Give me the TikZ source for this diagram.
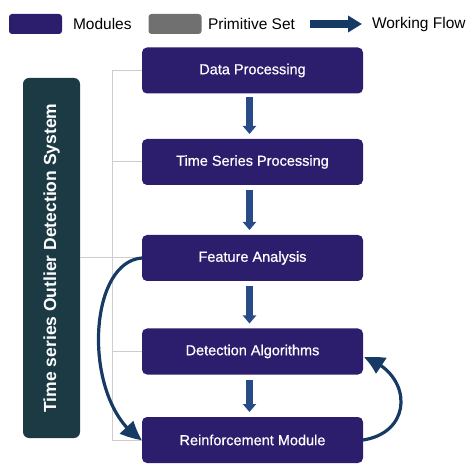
\documentclass[tikz,border=0pt]{standalone}
\usepackage{fontspec}
\setmainfont{Liberation Sans}
\newfontfamily\medfont[FakeBold=0.6]{Liberation Sans}
\usetikzlibrary{arrows.meta,bending}
\begin{document}
\begin{tikzpicture}[x=1pt, y=-1pt, inner sep=0pt, outer sep=0pt,
  module/.style={fill=M, rounded corners=5pt, minimum width=221pt, minimum height=46pt, text=white, font=\medfont\fontsize{14.5}{17}\selectfont},
  keybox/.style={rounded corners=3pt, minimum width=53pt, minimum height=20pt},
  keytext/.style={anchor=west, font=\fontsize{15.5}{18}\selectfont},
  link/.style={line width=1pt, draw=G},
  flow/.style={line width=6.5pt, draw=A, -{Triangle[width=13pt,length=8pt]}},
  loopback/.style={line width=3.2pt, draw=C, -{Triangle[width=18pt,length=20pt,bend]}}]
\definecolor{M}{RGB}{44,30,108}
\definecolor{P}{RGB}{112,112,112}
\definecolor{S}{RGB}{27,58,68}
\definecolor{A}{RGB}{40,74,135}
\definecolor{C}{RGB}{22,58,99}
\definecolor{G}{RGB}{205,205,205}
\useasboundingbox (0,0) rectangle (474,470);
\node[keybox, fill=M] (kmod) at (35.5,24) {};
\node[keytext] (kmodt) at (73,24) {Modules};
\node[keybox, fill=P] (kprim) at (175,24) {};
\node[keytext] (kprimt) at (208,24) {Primitive Set};
\coordinate (kflow) at (310,24);
\node[keytext] (kflowt) at (372,24) {Working Flow};
\draw[line width=8pt, draw=C, -{Triangle[width=16pt,length=14pt]}] (kflow) -- ([xshift=-10pt]kflowt.west);
\node[fill=S, rounded corners=6pt, rotate=90, minimum width=360pt, minimum height=57pt, text=white, font=\fontsize{17.5}{20}\selectfont\bfseries] (sys) at (51.5,258) {Time series Outlier Detection System};
\node[module] (dp) at (252.5,70.5) {Data Processing};
\node[module] (tsp) at (252.5,162) {Time Series Processing};
\node[module] (fa) at (252.5,258) {Feature Analysis};
\node[module] (da) at (252.5,351.5) {Detection Algorithms};
\node[module] (rm) at (252.5,440) {Reinforcement Module};
\coordinate (trunk) at (112,0);
\draw[link] (dp.west) -| (trunk |- rm.west) -- (rm.west);
\draw[link] (tsp.west) -- (tsp.west -| trunk);
\draw[link] (da.west) -- (da.west -| trunk);
\draw[link] (sys.south |- fa.west) -- (fa.west);
\draw[flow] ([xshift=-3pt,yshift=-4pt]dp.south) -- ([xshift=-3pt,yshift=5pt]tsp.north);
\draw[flow] ([xshift=-3pt,yshift=-5pt]tsp.south) -- ([xshift=-3pt,yshift=5pt]fa.north);
\draw[flow] ([xshift=-3pt,yshift=-5pt]fa.south) -- ([xshift=-3pt,yshift=5pt]da.north);
\draw[flow] ([xshift=-3pt,yshift=-5pt]da.south) -- ([xshift=-3pt,yshift=5pt]rm.north);
\draw[loopback] (fa.west) .. controls (86,262) and (82,405) .. (rm.west);
\draw[loopback] (rm.east) .. controls (415,432) and (412,372) .. ([xshift=1pt,yshift=-6pt]da.east);
\end{tikzpicture}
\end{document}
